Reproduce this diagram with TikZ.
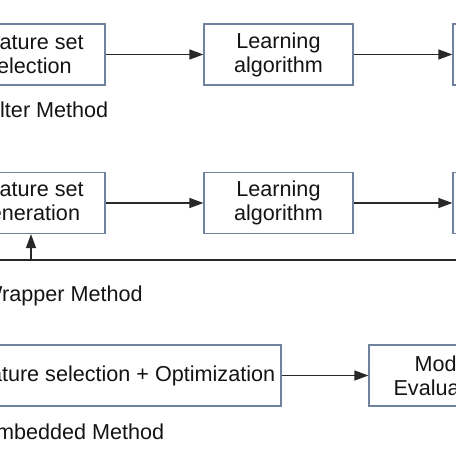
\documentclass[tikz,border=0pt]{standalone}
\usepackage{fontspec}
\setmainfont{Liberation Sans}
\usetikzlibrary{arrows.meta}
\definecolor{boxline}{RGB}{112,130,158}
\definecolor{arrowline}{RGB}{40,40,40}
\definecolor{txt}{RGB}{20,20,20}
\tikzset{
  box/.style={draw=boxline, line width=1.2pt, fill=white, inner sep=0pt,
    minimum height=61pt, align=center, text=txt,
    font=\fontsize{21.6pt}{24pt}\selectfont},
  conn/.style={draw=arrowline, line width=1.2pt,
    -{Triangle[length=14pt,width=10pt]}},
  methodlabel/.style={anchor=base west, inner sep=0pt, text=txt,
    font=\fontsize{21.6pt}{24pt}\selectfont}
}
\begin{document}
\begin{tikzpicture}[x=1pt,y=-1pt]
\useasboundingbox (0,0) rectangle (456,456);
\clip (0,0) rectangle (456,456);
% Filter
\node[box, minimum width=152pt] (fa) at (29,54.5) {Feature set\\selection};
\node[box, minimum width=149pt] (fb) at (278.5,54.5) {Learning\\algorithm};
\node[box, minimum width=149pt] (fc) at (527.5,54.5) {Performance};
\draw[conn] (fa) -- (fb);
\draw[conn] (fb) -- (fc);
\node[methodlabel] (fl) at (-18,117) {Filter Method};
% Wrapper
\node[box, minimum width=152pt] (wa) at (29,203) {Feature set\\generation};
\node[box, minimum width=149pt] (wb) at (278.5,203) {Learning\\algorithm};
\node[box, minimum width=149pt] (wc) at (527.5,203) {Performance};
\draw[conn] (wa) -- (wb);
\draw[conn] (wb) -- (wc);
\coordinate (fbk) at (0,260);
\draw[conn] (wc.south) |- (fbk) -| ([xshift=2pt]wa.south);
\node[methodlabel] (wl) at (-18,301) {Wrapper Method};
% Embedded
\node[box, minimum width=322pt] (ea) at (120,375.5) {Feature selection + Optimization};
\node[box, minimum width=150pt] (eb) at (444,375.5) {Model\\Evaluation};
\draw[conn] (ea) -- (eb);
\node[methodlabel] (el) at (-18.5,439) {Embedded Method};
\end{tikzpicture}
\end{document}
